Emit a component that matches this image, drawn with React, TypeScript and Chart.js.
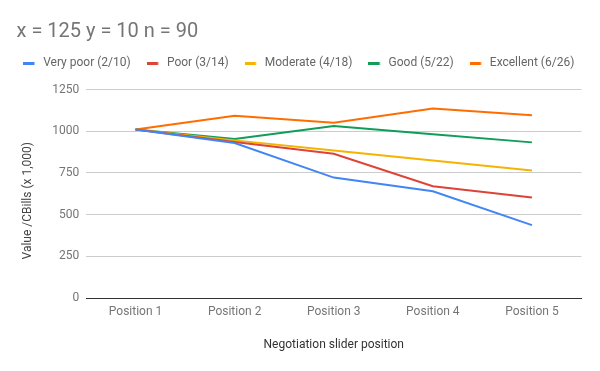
import React, { useEffect, useRef } from "react";
import { Chart, registerables } from "chart.js";

Chart.register(...registerables);

const categories = ["Position 1", "Position 2", "Position 3", "Position 4", "Position 5"];
const seriesNames = ["Very poor (2/10)", "Poor (3/14)", "Moderate (4/18)", "Good (5/22)", "Excellent (6/26)"];
const veryPoor = [1010, 929, 722, 640, 437];
const poor = [1010, 935, 865, 670, 602];
const moderate = [1010, 945, 885, 825, 765];
const good = [1010, 953, 1031, 981, 933];
const excellent = [1010, 1092, 1051, 1136, 1096];
const colors = ["#4285F4", "#DB4437", "#F4B400", "#0F9D58", "#FF6D00"];
const yTicks = [0, 250, 500, 750, 1000, 1250];

const FS = 12;
const LEGEND_PAD = 15.7;
const EXTRA = 200;

const shiftPlugin = {
  id: "shiftBlocks",
  beforeLayout(chart: any) {
    const lg = chart.legend;
    if (lg && !lg._widePatched) {
      const orig = lg.update.bind(lg);
      lg.update = (mw: number, mh: number, m: any) => orig(mw + EXTRA, mh, m);
      lg._widePatched = true;
    }
  },
  afterLayout(chart: any) {
    if (chart.legend) {
      chart.legend.left -= 12;
      chart.legend.right += EXTRA;
      chart.legend.width += EXTRA + 12;
      chart.legend.top -= 10.5;
      chart.legend.bottom -= 10.5;
    }
    if (chart.titleBlock) {
      chart.titleBlock.left -= 2.5;
    }
    const ys = chart.scales && chart.scales.y;
    if (ys && !ys._titlePatched) {
      const origTitle = ys.drawTitle.bind(ys);
      ys.drawTitle = () => {
        const ctx = chart.ctx;
        ctx.save();
        ctx.translate(0, 7);
        origTitle();
        ctx.restore();
      };
      ys._titlePatched = true;
    }
  },
};

function makeSwatch(color: string) {
  const c = document.createElement("canvas");
  c.width = 14;
  c.height = 3;
  const ctx = c.getContext("2d")!;
  ctx.fillStyle = color;
  ctx.fillRect(0, 0, 11.5, 3);
  return c;
}

export default function App() {
  const ref = useRef<HTMLCanvasElement | null>(null);
  useEffect(() => {
    document.body.style.margin = "0";
    const values = [veryPoor, poor, moderate, good, excellent];
    const swatches = colors.map(makeSwatch);
    const chart = new Chart(ref.current!, {
      type: "line",
      data: {
        labels: categories,
        datasets: seriesNames.map((name, i) => ({
          label: name,
          data: values[i],
          borderColor: colors[i],
          backgroundColor: colors[i],
          borderWidth: 2,
          pointRadius: 0,
          tension: 0,
        })),
      },
      plugins: [shiftPlugin],
      options: {
        responsive: false,
        animation: false,
        layout: { padding: { top: 20, left: 19, right: 18.5, bottom: 18.8 } },
        plugins: {
          title: {
            display: true,
            text: "x = 125 y = 10 n = 90",
            align: "start",
            color: "#757575",
            font: { family: "Roboto", size: 20, weight: "normal" },
            padding: { top: 0, bottom: 7.8 },
          },
          legend: {
            display: true,
            align: "start",
            labels: {
              color: "#666666",
              font: { family: "Roboto", size: FS },
              usePointStyle: true,
              pointStyleWidth: 14.5,
              boxHeight: 3,
              padding: LEGEND_PAD,
              generateLabels: (c: any) =>
                c.data.datasets.map((d: any, i: number) => ({
                  text: d.label,
                  fillStyle: d.borderColor,
                  strokeStyle: d.borderColor,
                  lineWidth: 0,
                  pointStyle: swatches[i],
                  fontColor: "#666666",
                  hidden: false,
                  datasetIndex: i,
                })),
            },
          },
          tooltip: { enabled: false },
        },
        scales: {
          x: {
            offset: true,
            grid: { display: false, drawTicks: false },
            border: { display: true, color: "#333333", width: 1 },
            ticks: { color: "#757575", font: { family: "Roboto", size: FS }, padding: 7, maxRotation: 0 },
            title: {
              display: true,
              text: "Negotiation slider position",
              color: "#333333",
              font: { family: "Roboto", size: FS },
              padding: { top: 11.4, bottom: 0 },
            },
          },
          y: {
            min: 0,
            max: 1250,
            afterBuildTicks: (s: any) => {
              s.ticks = yTicks.map((v) => ({ value: v }));
            },
            afterFit: (s: any) => {
              s.width = 67;
            },
            grid: { color: "#cccccc", drawTicks: false },
            border: { display: false },
            ticks: {
              color: "#757575",
              font: { family: "Roboto", size: FS },
              padding: 6.7,
              callback: (v: any) => String(v),
            },
            title: {
              display: true,
              text: "Value /CBills (x 1,000)",
              color: "#444444",
              font: { family: "Roboto", size: FS },
              padding: { top: 1.6, bottom: 4 },
            },
          },
        },
      },
    });
    return () => chart.destroy();
  }, []);
  return (
    <div style={{ width: 600, height: 371 }}>
      <canvas ref={ref} width={600} height={371} />
    </div>
  );
}
